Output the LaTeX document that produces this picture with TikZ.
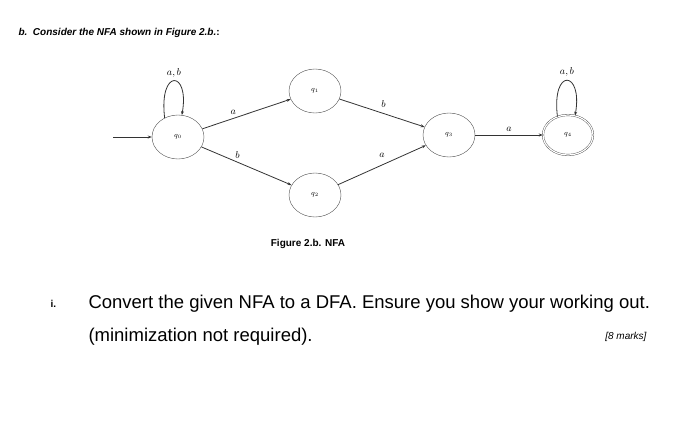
\documentclass[tikz,border=0pt]{standalone}
\usepackage{fontspec}
\setmainfont{Liberation Sans}
\usetikzlibrary{arrows.meta,shapes.geometric}
\begin{document}
\begin{tikzpicture}[x=1pt,y=-1pt,
  st/.style={draw=black!70,ellipse,minimum width=52pt,minimum height=44pt,inner sep=0pt,font=\fontsize{7}{8}\selectfont},
  tr/.style={draw=black!80,line width=0.8pt,-{Stealth[length=4pt,width=3pt]}},
  lb/.style={font=\fontsize{10}{11}\selectfont},
  big/.style={font=\fontsize{18.5}{21}\selectfont}]
\useasboundingbox (0,0) rectangle (700,447);
\node[anchor=west,big,font=\bfseries\itshape] (title) at (15,33) {b.\ \ Consider the NFA shown in Figure 2.b.{\normalfont\bfseries :}};
\node[st] (q0) at (178,137) {$q_0$};
\node[st] (q1) at (315,91) {$q_1$};
\node[st] (q2) at (315,195) {$q_2$};
\node[st] (q3) at (449,135) {$q_3$};
\node[st,double,double distance=1.2pt,minimum width=50pt,minimum height=40pt] (q4) at (568,135) {$q_4$};
\coordinate (s) at (113,137);
\draw[tr] (s) -- (q0);
\draw[tr] (q0) -- node[lb,above,pos=0.35] {$a$} (q1);
\draw[tr] (q0) -- node[lb,above,pos=0.4] {$b$} (q2);
\draw[tr] (q1) -- node[lb,above right,pos=0.45] {$b$} (q3);
\draw[tr] (q2) -- node[lb,above,pos=0.5,yshift=4pt] {$a$} (q3);
\draw[tr] (q3) -- node[lb,above] {$a$} (q4);
\draw[tr] (q0.125) .. controls +(-6,-50) and +(8,-45) .. node[lb,above] {$a,b$} (q0.80);
\draw[tr] (q4.120) .. controls +(-6,-50) and +(8,-45) .. node[lb,above] {$a,b$} (q4.70);
\node[big,font=\bfseries] (cap) at (308,244) {Figure 2.b. NFA};
\node[anchor=west,big,font=\bfseries] (ii) at (47,304) {i.};
\node[anchor=west,big] (t1) at (85,304) {Convert the given NFA to a DFA. Ensure you show your working out.};
\node[anchor=west,big] (t2) at (85,337) {(minimization not required).};
\node[anchor=east,big,font=\itshape] (m) at (650,337) {[8 marks]};
\end{tikzpicture}
\end{document}
